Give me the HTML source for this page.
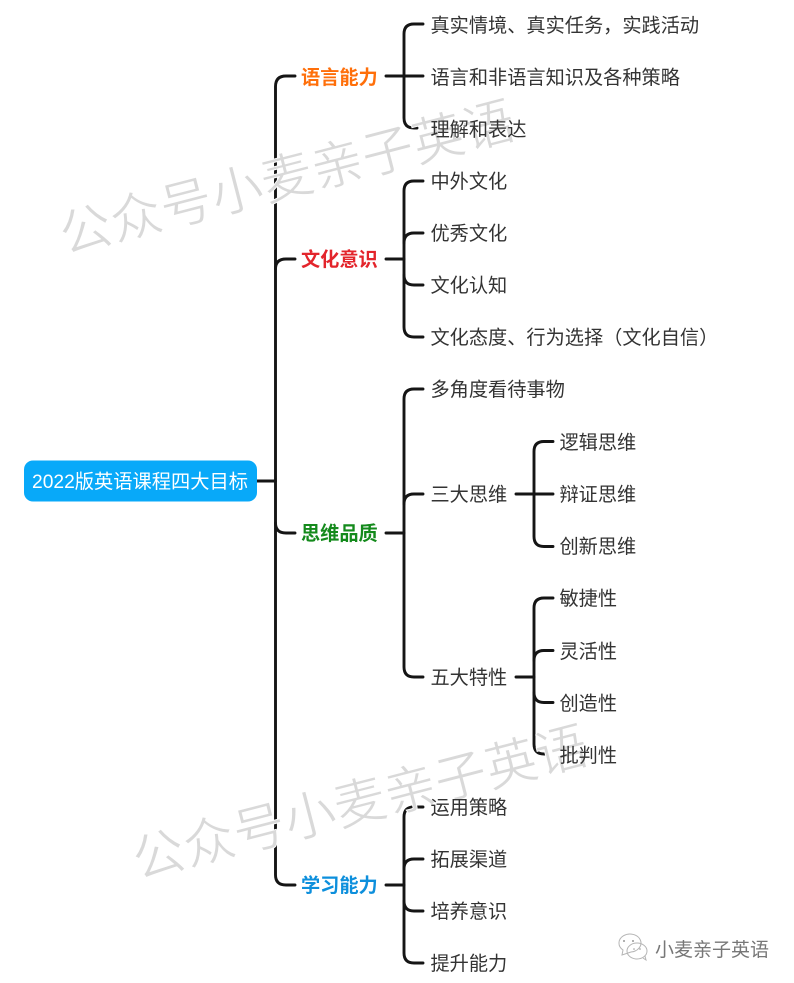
<!DOCTYPE html>
<html lang="zh"><head><meta charset="utf-8"><style>
html,body{margin:0;padding:0;background:#fff}
svg{display:block}
text{font-family:"Liberation Sans","Noto Sans CJK SC",sans-serif}
.l{font-size:19.2px;fill:#333}
.b{font-size:19.2px;font-weight:700}
.w{font-size:52px;fill:#d9d9d9;stroke:#fff;stroke-width:.9px;font-family:"WenQuanYi Zen Hei","Noto Sans CJK SC",sans-serif}
</style></head><body>
<svg width="794" height="983" viewBox="0 0 794 983" xmlns="http://www.w3.org/2000/svg">
<rect width="794" height="983" fill="#fff"/>
<g fill="none" stroke="#151515" stroke-width="2.900" stroke-linecap="round">
<path d="M257 481H275.500"/>
<path d="M295 76H286Q275.500 76 275.500 86.500V875Q275.500 885 286 885H295"/>
<path d="M295 259H286Q275.500 259 275.500 269"/>
<path d="M295 533H286Q275.500 533 275.500 523"/>
<path d="M386 76H423"/>
<path d="M423 24H414Q404 24 404 34V118Q404 128 414 128H417"/>
<path d="M386 259H404"/>
<path d="M423 181H414Q404 181 404 191V327Q404 337 414 337H423"/>
<path d="M423 233H414Q404 233 404 243"/>
<path d="M423 285H414Q404 285 404 275"/>
<path d="M386 533H404"/>
<path d="M423 389H414Q404 389 404 399V667Q404 677 414 677H423"/>
<path d="M423 494H414Q404 494 404 504"/>
<path d="M516 494H553"/>
<path d="M553 441.500H544Q534 441.500 534 451.500V536.500Q534 546.500 544 546.500H553"/>
<path d="M516 677H534"/>
<path d="M553 598H544Q534 598 534 608V744Q534 754 544 754H546"/>
<path d="M553 650.500H544Q534 650.500 534 660.500"/>
<path d="M553 702.500H544Q534 702.500 534 692.500"/>
<path d="M386 885H404"/>
<path d="M423 807H414Q404 807 404 817V953Q404 963 414 963H423"/>
<path d="M423 859H414Q404 859 404 869"/>
<path d="M423 911H414Q404 911 404 901"/>
</g>
<text class="w" transform="translate(65 254) rotate(-14.500)">公众号小麦亲子英语</text>
<text class="w" transform="translate(138 879) rotate(-14.500)">公众号小麦亲子英语</text>
<rect x="24" y="460.500" width="233" height="41" rx="9" fill="#08a9f9"/>
<text x="32" y="488" font-size="19.200" fill="#fff" textLength="216" lengthAdjust="spacingAndGlyphs">2022版英语课程四大目标</text>
<text class="b" x="301" y="84" fill="#ff6f0a">语言能力</text>
<text class="b" x="301" y="266" fill="#e3242b">文化意识</text>
<text class="b" x="301" y="540" fill="#148a1c">思维品质</text>
<text class="b" x="301" y="892" fill="#0d8fdc">学习能力</text>
<g>
<text class="l" x="430.500" y="32">真实情境、真实任务，实践活动</text>
<text class="l" x="430.500" y="84">语言和非语言知识及各种策略</text>
<text class="l" x="430.500" y="136">理解和表达</text>
<text class="l" x="430.500" y="188">中外文化</text>
<text class="l" x="430.500" y="240">优秀文化</text>
<text class="l" x="430.500" y="292">文化认知</text>
<text class="l" x="430.500" y="344">文化态度、行为选择（文化自信）</text>
<text class="l" x="430.500" y="396">多角度看待事物</text>
<text class="l" x="430.500" y="501">三大思维</text>
<text class="l" x="430.500" y="684">五大特性</text>
<text class="l" x="559.500" y="449">逻辑思维</text>
<text class="l" x="559.500" y="501">辩证思维</text>
<text class="l" x="559.500" y="553">创新思维</text>
<text class="l" x="559.500" y="605">敏捷性</text>
<text class="l" x="559.500" y="658">灵活性</text>
<text class="l" x="559.500" y="710">创造性</text>
<text class="l" x="559.500" y="762">批判性</text>
<text class="l" x="430.500" y="814">运用策略</text>
<text class="l" x="430.500" y="866">拓展渠道</text>
<text class="l" x="430.500" y="918">培养意识</text>
<text class="l" x="430.500" y="970">提升能力</text>
</g>
<g fill="none" stroke="#b5b5b5" stroke-width="1">
<path d="M622 955l1-5a11 9 0 1 1 8 2z"/>
<ellipse cx="637" cy="951" rx="10" ry="8"/>
<path d="M643 958l3 2-1-4"/>
</g>
<g fill="#999"><circle cx="624" cy="941" r="1"/><circle cx="633" cy="941" r="1"/><circle cx="634" cy="949" r=".8"/><circle cx="640" cy="949" r=".8"/></g>
<text x="655" y="956" font-size="19" fill="#777">小麦亲子英语</text>
</svg>
</body></html>
